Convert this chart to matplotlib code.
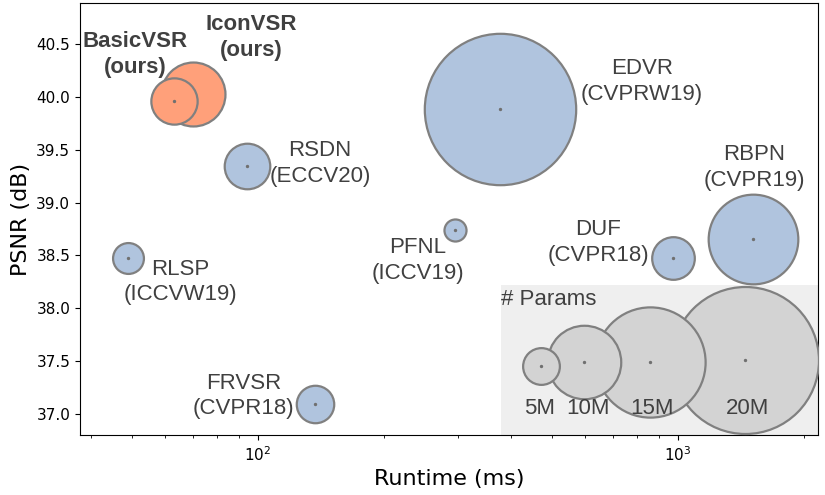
import matplotlib
matplotlib.use("Agg")
import matplotlib.pyplot as plt
from matplotlib.patches import Rectangle
import numpy as np

# method data: runtime (ms), PSNR (dB), params (M)
names = ['BasicVSR\n(ours)', 'IconVSR\n(ours)', 'RSDN\n(ECCV20)', 'EDVR\n(CVPRW19)',
         'RLSP\n(ICCVW19)', 'PFNL\n(ICCV19)', 'DUF\n(CVPR18)', 'RBPN\n(CVPR19)',
         'FRVSR\n(CVPR18)']
runtime = [63, 70, 94, 378, 49, 295, 974, 1507, 137]
psnr = [39.96, 40.03, 39.35, 39.89, 38.48, 38.74, 38.48, 38.66, 37.09]
params = [6.3, 8.7, 6.2, 20.6, 4.2, 3.0, 5.8, 12.2, 5.1]
ours = [True, True, False, False, False, False, False, False, False]

# size legend
leg_params = [5, 10, 15, 20]
leg_labels = ['5M', '10M', '15M', '20M']

# where the text labels go (data coords)
label_x = [50.9, 96.5, 140.6, 822, 65.2, 240.6, 645.7, 1520, 92.6]
label_y = [40.40, 40.56, 39.37, 40.145, 38.25, 38.45, 38.62, 39.33, 37.17]
leg_x = [472, 599, 859, 1445]
leg_y = [37.45, 37.49, 37.49, 37.51]
leg_text_x = [468, 612, 867, 1466]

def size(p):
    return 28.0 * np.asarray(p) ** 2

fig = plt.figure(figsize=(8.25, 4.95), dpi=100)
ax = fig.add_axes([0.097, 0.121, 0.895, 0.873])
ax.set_xscale('log')
ax.set_xlim(37.7, 2160)
ax.set_ylim(36.8, 40.89)

ax.add_patch(Rectangle((380, 36.8), 2160 - 380, 38.22 - 36.8,
                       facecolor='#efefef', edgecolor='none', zorder=0))

txt = dict(family='Liberation Sans', fontsize=16, color='#404040',
           ha='center', va='center', multialignment='center', linespacing=1.3)

# bigger ones first so small circles sit on top
order = np.argsort(params)[::-1]
for z, i in enumerate(order):
    c = '#ffa07a' if ours[i] else '#b0c4de'
    ax.scatter(runtime[i], psnr[i], s=size(params[i]), c=c, edgecolors='#808080',
               linewidths=1.6, zorder=2 + z)
    ax.scatter(runtime[i], psnr[i], s=2, c='#707070', zorder=2 + z)

for i in range(len(names)):
    ax.text(label_x[i], label_y[i], names[i],
            fontweight='bold' if ours[i] else 'normal', zorder=30, **txt)

for k in range(len(leg_params) - 1, -1, -1):
    z = 20 + (len(leg_params) - k)
    ax.scatter(leg_x[k], leg_y[k], s=size(leg_params[k]), c='#d3d3d3',
               edgecolors='#808080', linewidths=1.6, zorder=z)
    ax.scatter(leg_x[k], leg_y[k], s=2, c='#707070', zorder=z)
    ax.text(leg_text_x[k], 37.05, leg_labels[k], zorder=30, **txt)

ax.text(380, 38.08, '# Params', family='Liberation Sans', fontsize=16,
        color='#404040', ha='left', va='center', zorder=30)

ax.set_yticks([37.0, 37.5, 38.0, 38.5, 39.0, 39.5, 40.0, 40.5])
ax.tick_params(labelsize=11)
ax.set_xlabel('Runtime (ms)', fontsize=16)
ax.set_ylabel('PSNR (dB)', fontsize=16)

fig.savefig('out.png', dpi=100)
